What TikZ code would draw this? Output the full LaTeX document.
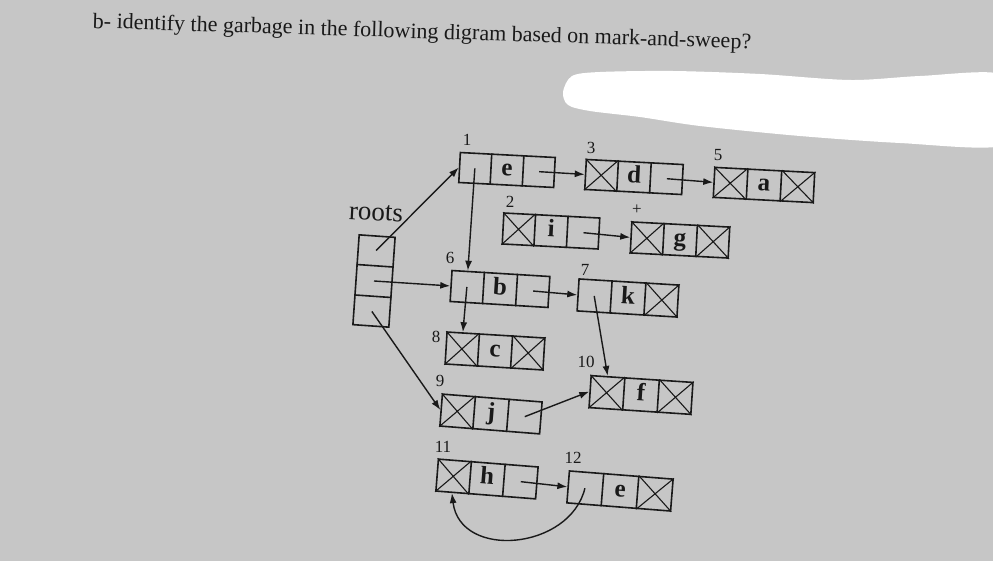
\documentclass[tikz,border=0pt]{standalone}
\usepackage{fontspec}
\setmainfont{Liberation Serif}
\usetikzlibrary{calc,arrows.meta}
\definecolor{bg}{RGB}{198,198,198}
\definecolor{ink}{RGB}{25,25,25}
\tikzset{
 recbox/.style={draw=ink, line width=1.6pt, inner sep=0pt, rectangle},
 lett/.style={font=\fontsize{25}{25}\selectfont\bfseries, text=ink, inner sep=0pt, text height=17pt, text depth=6pt},
 num/.style={font=\fontsize{17}{17}\selectfont, text=ink, inner sep=0pt},
 cell/.style={draw=ink, line width=1.6pt},
 xline/.style={draw=ink, line width=1.1pt},
 ptr/.style={draw=ink, line width=1.4pt, -{Latex[length=10pt,width=7pt]}},
}
\newcommand\rec[7]{%
 \node[recbox, minimum width=#4pt, minimum height=#5pt, rotate=#6] (#1) at (#2,#3) {};
 \draw[cell] ($(#1.north west)!1/3!(#1.north east)$) -- ($(#1.south west)!1/3!(#1.south east)$)
  ($(#1.north west)!2/3!(#1.north east)$) -- ($(#1.south west)!2/3!(#1.south east)$);
 \node[lett, rotate=#6] (#1-t) at (#1.center) {#7};
 \coordinate (#1-a) at ($(#1.west)!1/6!(#1.east)$);
 \coordinate (#1-c) at ($(#1.west)!5/6!(#1.east)$);
 \coordinate (#1-na) at ($(#1.north west)!1/6!(#1.north east)$);
 \coordinate (#1-sa) at ($(#1.south west)!1/6!(#1.south east)$);
}
\newcommand\crossfirst[1]{\draw[xline] (#1.north west) -- ($(#1.south west)!1/3!(#1.south east)$) (#1.south west) -- ($(#1.north west)!1/3!(#1.north east)$);}
\newcommand\crosslast[1]{\draw[xline] (#1.north east) -- ($(#1.south west)!2/3!(#1.south east)$) (#1.south east) -- ($(#1.north west)!2/3!(#1.north east)$);}
\begin{document}
\begin{tikzpicture}[x=1pt,y=-1pt]
\fill[bg] (0,0) rectangle (993,561);
\useasboundingbox (0,0) rectangle (993,561);
\clip (0,0) rectangle (993,561);
% white redaction stroke
\fill[white] plot[smooth cycle] coordinates {(563,92) (572,76) (600,72) (673,71) (760,74) (850,80) (920,76) (1000,74) (1005,110) (1000,146) (900,143) (800,136) (700,126) (640,117) (590,111) (568,105)};
% title
\node[font=\fontsize{22}{22}\selectfont, rotate=-1.8, text=ink] (title) at (422,33) {b- identify the garbage in the following digram based on mark-and-sweep?};
% roots
\node[font=\fontsize{27}{27}\selectfont, rotate=-3, text=ink, inner sep=0pt] (rootslbl) at (376,213) {roots};
\node[recbox, minimum width=36pt, minimum height=90pt, rotate=-4] (roots) at (374,281) {};
\draw[cell] ($(roots.north west)!1/3!(roots.south west)$) -- ($(roots.north east)!1/3!(roots.south east)$)
 ($(roots.north west)!2/3!(roots.south west)$) -- ($(roots.north east)!2/3!(roots.south east)$);
\coordinate (roots-1) at ($(roots.north)!1/6!(roots.south)$);
\coordinate (roots-2) at ($(roots.north)!1/2!(roots.south)$);
\coordinate (roots-3) at ($(roots.north)!5/6!(roots.south)$);
% records
\rec{r1}{507}{170}{95}{30}{-3}{e}
\rec{r3}{634}{177}{97}{30}{-3}{d}\crossfirst{r3}
\rec{r5}{764}{185}{100}{30}{-3}{a}\crossfirst{r5}\crosslast{r5}
\rec{r2}{551}{231}{96}{31}{-3}{i}\crossfirst{r2}
\rec{r4}{680}{240}{98}{31}{-3}{g}\crossfirst{r4}\crosslast{r4}
\rec{r6}{500}{289}{98}{31}{-3.5}{b}
\rec{r7}{628}{298}{100}{32}{-3.5}{k}\crosslast{r7}
\rec{r8}{495}{351}{98}{32}{-3.5}{c}\crossfirst{r8}\crosslast{r8}
\rec{r9}{491}{414}{100}{32}{-4.5}{j}\crossfirst{r9}
\rec{r10}{641}{395}{102}{32}{-3.8}{f}\crossfirst{r10}\crosslast{r10}
\rec{r11}{487}{479}{100}{32}{-4.5}{h}\crossfirst{r11}
\rec{r12}{620}{491}{104}{32}{-4.5}{e}\crosslast{r12}
% labels
\node[num] (n1) at (467,140) {1};
\node[num] (n2) at (510,202) {2};
\node[num] (n3) at (591,148) {3};
\node[num] (n4) at (637,210) {+};
\node[num] (n5) at (718,155) {5};
\node[num] (n6) at (450,258) {6};
\node[num] (n7) at (585,270) {7};
\node[num] (n8) at (436,337) {8};
\node[num] (n9) at (440,381) {9};
\node[num] (n10) at (586,362) {10};
\node[num] (n11) at (443,447) {11};
\node[num] (n12) at (573,458) {12};
% pointers
\draw[ptr] (roots-1) -- (r1.west);
\draw[ptr] (roots-2) -- (r6.west);
\draw[ptr] (roots-3) -- (r9.west);
\draw[ptr] (r1-a) -- (r6-na);
\draw[ptr] (r1-c) -- (r3.west);
\draw[ptr] (r3-c) -- (r5.west);
\draw[ptr] (r2-c) -- (r4.west);
\draw[ptr] (r6-a) -- (r8-na);
\draw[ptr] (r6-c) -- (r7.west);
\draw[ptr] (r7-a) -- (r10-na);
\draw[ptr] (r9-c) -- (r10.west);
\draw[ptr] (r11-c) -- (r12.west);
\draw[ptr] (r12-a) .. controls (570,550) and (460,560) .. (r11-sa);
\end{tikzpicture}
\end{document}
